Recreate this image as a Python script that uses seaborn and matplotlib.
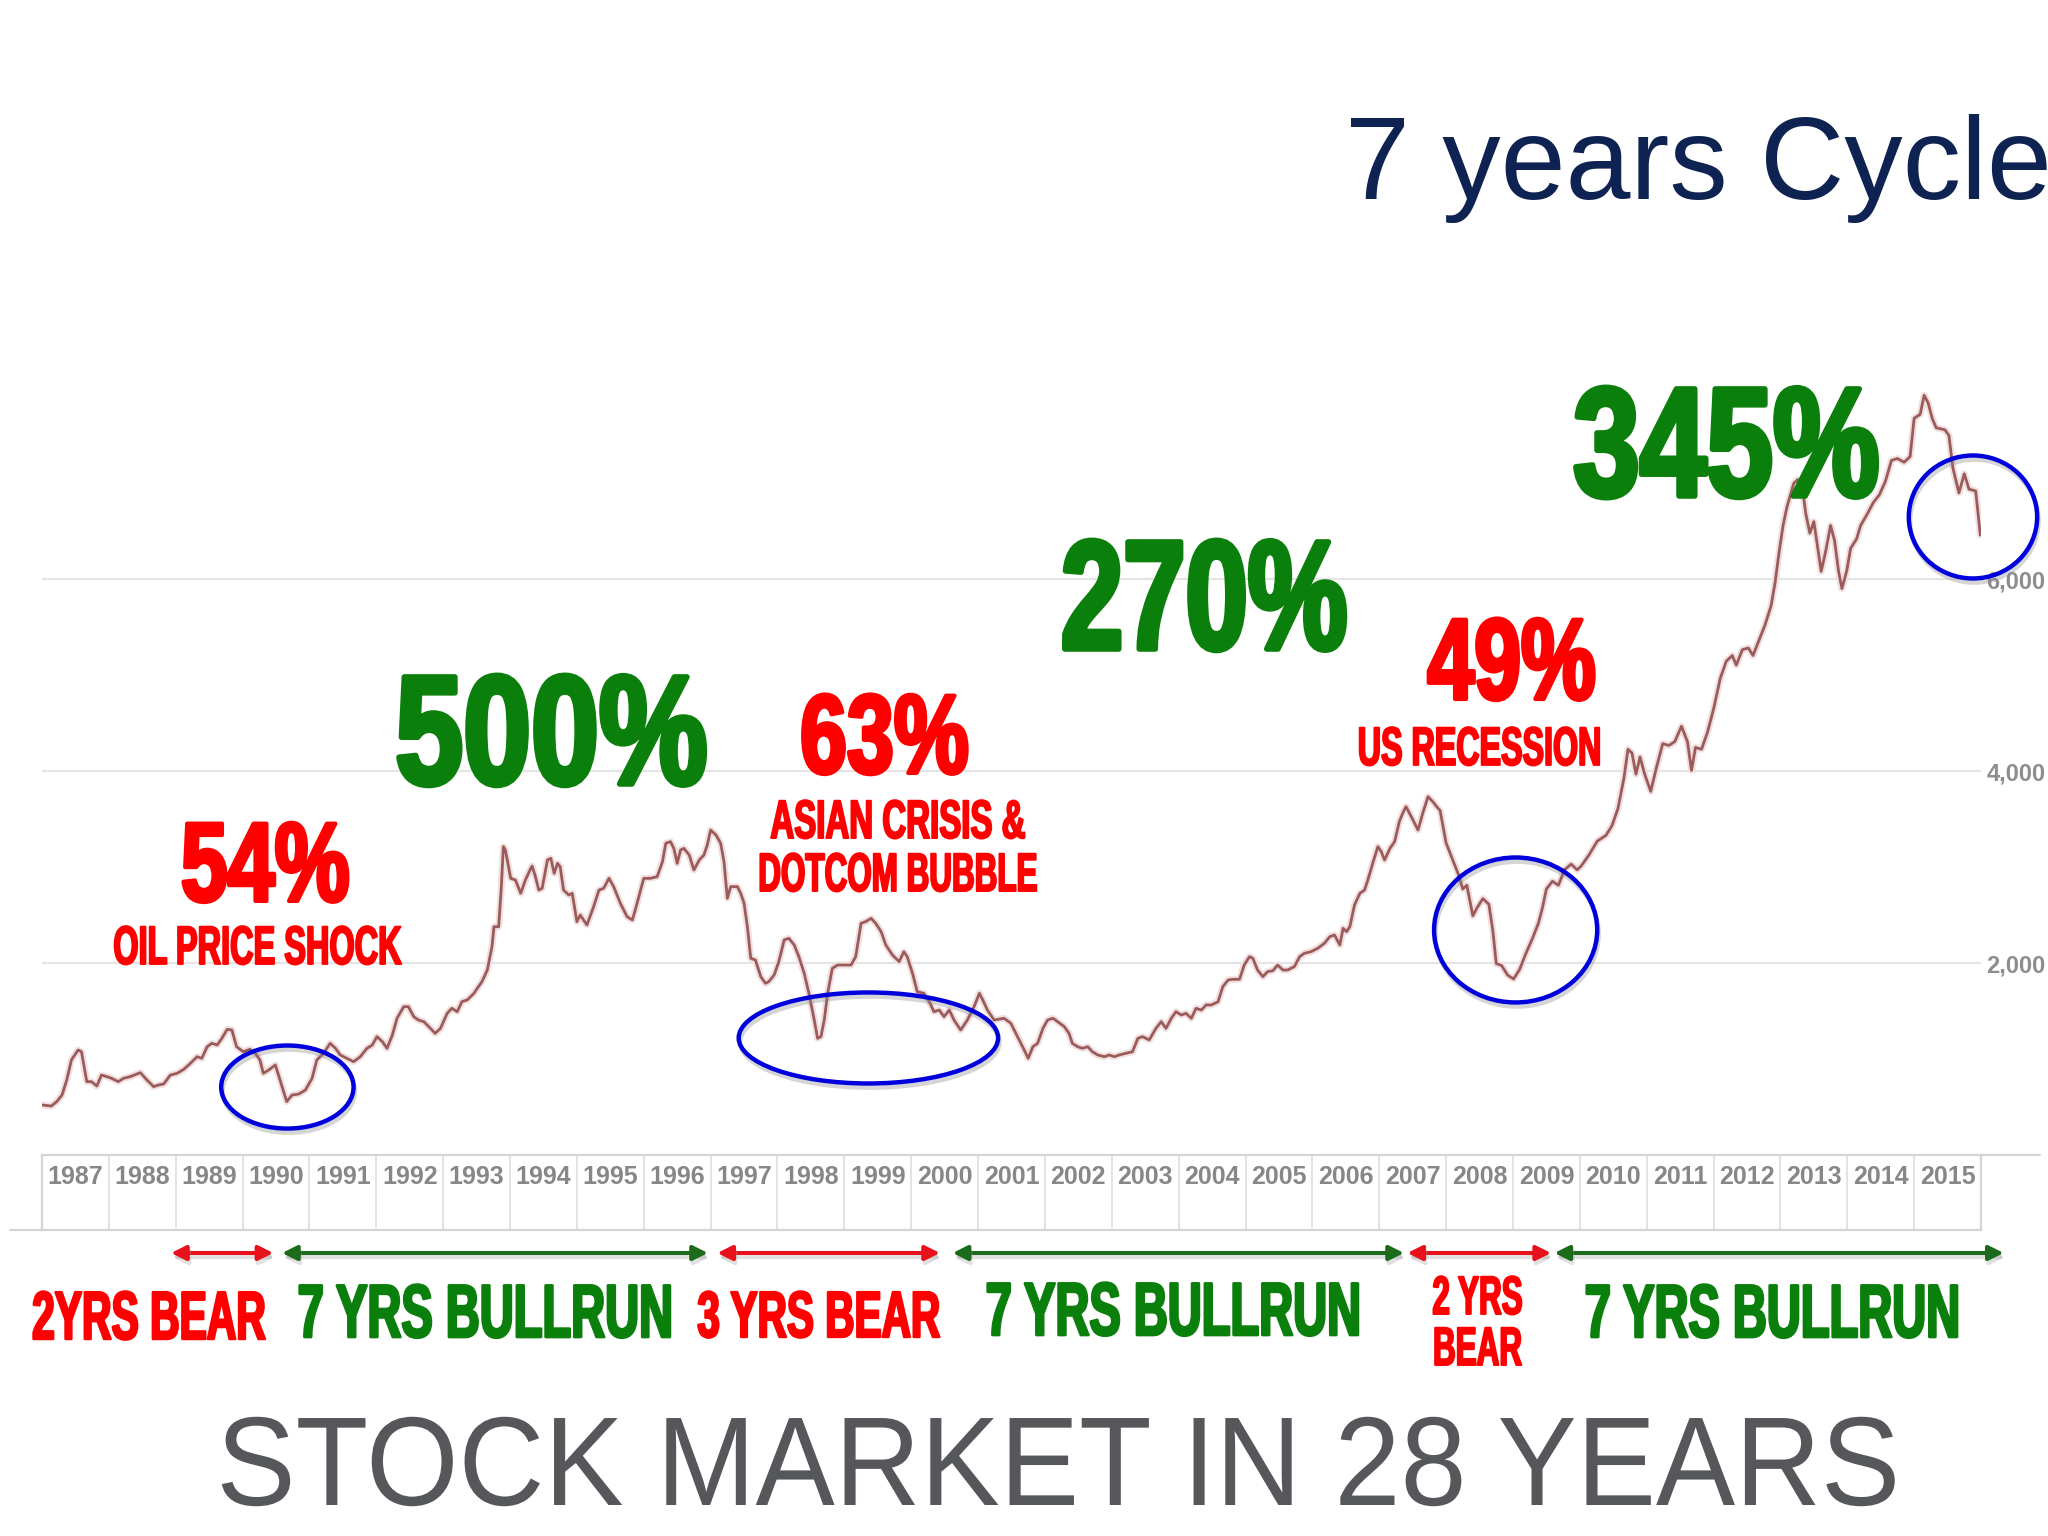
import matplotlib
matplotlib.use("Agg")
import matplotlib.pyplot as plt
import matplotlib.transforms as mtransforms
from matplotlib import patheffects as pe
from matplotlib.patches import Ellipse
from matplotlib.lines import Line2D
import seaborn as sns
import pandas as pd

# index level, as (fractional year, level)
years = [
    1987.00, 1987.14, 1987.22, 1987.30, 1987.37, 1987.44, 1987.54, 1987.59, 1987.64, 1987.67,
    1987.74, 1987.82, 1987.89, 1987.97, 1988.04, 1988.14, 1988.22, 1988.32, 1988.47, 1988.57,
    1988.67, 1988.74, 1988.82, 1988.92, 1989.02, 1989.12, 1989.22, 1989.32, 1989.39, 1989.47,
    1989.54, 1989.62, 1989.69, 1989.77, 1989.84, 1989.91, 1990.01, 1990.11, 1990.19, 1990.26,
    1990.31, 1990.39, 1990.49, 1990.59, 1990.66, 1990.74, 1990.84, 1990.94, 1991.04, 1991.11,
    1991.21, 1991.31, 1991.39, 1991.46, 1991.56, 1991.66, 1991.76, 1991.86, 1991.94, 1992.01,
    1992.09, 1992.16, 1992.24, 1992.31, 1992.41, 1992.48, 1992.56, 1992.63, 1992.71, 1992.81,
    1992.88, 1992.96, 1993.06, 1993.13, 1993.21, 1993.28, 1993.36, 1993.46, 1993.51, 1993.58,
    1993.66, 1993.73, 1993.76, 1993.83, 1993.87, 1993.90, 1993.93, 1994.01, 1994.08, 1994.16,
    1994.23, 1994.31, 1994.33, 1994.38, 1994.43, 1994.48, 1994.56, 1994.61, 1994.66, 1994.71,
    1994.75, 1994.80, 1994.88, 1994.93, 1995.00, 1995.05, 1995.15, 1995.25, 1995.33, 1995.40,
    1995.48, 1995.55, 1995.65, 1995.75, 1995.83, 1995.90, 1996.00, 1996.10, 1996.20, 1996.28,
    1996.33, 1996.40, 1996.45, 1996.50, 1996.55, 1996.60, 1996.68, 1996.75, 1996.83, 1996.90,
    1996.95, 1997.00, 1997.08, 1997.15, 1997.20, 1997.25, 1997.30, 1997.40, 1997.45, 1997.50,
    1997.55, 1997.60, 1997.67, 1997.75, 1997.82, 1997.87, 1997.95, 1998.02, 1998.10, 1998.17,
    1998.25, 1998.32, 1998.40, 1998.47, 1998.55, 1998.60, 1998.65, 1998.70, 1998.75, 1998.82,
    1998.90, 1999.00, 1999.10, 1999.17, 1999.25, 1999.32, 1999.40, 1999.47, 1999.55, 1999.62,
    1999.72, 1999.82, 1999.89, 1999.94, 2000.02, 2000.09, 2000.19, 2000.27, 2000.34, 2000.42,
    2000.49, 2000.57, 2000.64, 2000.74, 2000.84, 2000.94, 2001.02, 2001.07, 2001.14, 2001.24,
    2001.39, 2001.49, 2001.59, 2001.69, 2001.75, 2001.82, 2001.89, 2001.97, 2002.04, 2002.12,
    2002.19, 2002.29, 2002.36, 2002.41, 2002.49, 2002.56, 2002.64, 2002.71, 2002.79, 2002.89,
    2002.96, 2003.04, 2003.11, 2003.21, 2003.31, 2003.39, 2003.46, 2003.56, 2003.66, 2003.74,
    2003.81, 2003.89, 2003.96, 2004.04, 2004.11, 2004.19, 2004.26, 2004.34, 2004.41, 2004.49,
    2004.59, 2004.66, 2004.74, 2004.81, 2004.91, 2004.98, 2005.06, 2005.11, 2005.18, 2005.26,
    2005.33, 2005.41, 2005.48, 2005.56, 2005.63, 2005.73, 2005.81, 2005.88, 2005.98, 2006.08,
    2006.18, 2006.26, 2006.33, 2006.41, 2006.46, 2006.51, 2006.56, 2006.63, 2006.71, 2006.78,
    2006.83, 2006.91, 2006.98, 2007.03, 2007.08, 2007.16, 2007.23, 2007.30, 2007.35, 2007.40,
    2007.48, 2007.58, 2007.65, 2007.73, 2007.80, 2007.88, 2007.91, 2008.00, 2008.09, 2008.18,
    2008.25, 2008.31, 2008.40, 2008.46, 2008.55, 2008.64, 2008.70, 2008.75, 2008.83, 2008.92,
    2009.01, 2009.10, 2009.19, 2009.29, 2009.38, 2009.44, 2009.50, 2009.59, 2009.68, 2009.77,
    2009.87, 2009.96, 2010.02, 2010.14, 2010.26, 2010.39, 2010.48, 2010.57, 2010.66, 2010.72,
    2010.78, 2010.84, 2010.90, 2010.97, 2011.06, 2011.15, 2011.24, 2011.33, 2011.42, 2011.52,
    2011.61, 2011.67, 2011.73, 2011.82, 2011.91, 2012.00, 2012.10, 2012.19, 2012.28, 2012.34,
    2012.43, 2012.52, 2012.59, 2012.68, 2012.77, 2012.86, 2012.92, 2012.98, 2013.04, 2013.10,
    2013.20, 2013.26, 2013.32, 2013.38, 2013.44, 2013.50, 2013.56, 2013.61, 2013.68, 2013.75,
    2013.81, 2013.87, 2013.92, 2013.99, 2014.05, 2014.14, 2014.20, 2014.30, 2014.39, 2014.48,
    2014.57, 2014.66, 2014.75, 2014.85, 2014.94, 2015.00, 2015.09, 2015.15, 2015.21, 2015.27,
    2015.33, 2015.46, 2015.52, 2015.58, 2015.67, 2015.75, 2015.82, 2015.92, 2015.99,
]
index_level = [
    521, 510, 556, 625, 781, 990, 1094, 1076, 885, 764,
    764, 719, 833, 816, 799, 764, 799, 816, 858, 781,
    712, 729, 740, 833, 851, 892, 955, 1024, 1007, 1128,
    1163, 1146, 1215, 1309, 1302, 1128, 1076, 1101, 1059, 990,
    851, 885, 938, 712, 556, 625, 635, 677, 799, 990,
    1059, 1163, 1111, 1042, 1007, 972, 1024, 1111, 1146, 1233,
    1181, 1111, 1250, 1424, 1545, 1545, 1441, 1406, 1389, 1319,
    1267, 1319, 1476, 1528, 1493, 1597, 1615, 1684, 1736, 1806,
    1927, 2170, 2378, 2378, 2795, 3212, 3177, 2882, 2865, 2726,
    2865, 2986, 3010, 2899, 2760, 2778, 3073, 3090, 2934, 3038,
    3003, 2760, 2708, 2726, 2431, 2500, 2396, 2587, 2760, 2778,
    2882, 2795, 2622, 2483, 2448, 2622, 2882, 2882, 2899, 3056,
    3247, 3264, 3194, 3038, 3177, 3194, 3125, 2969, 3073, 3125,
    3229, 3385, 3333, 3247, 3056, 2674, 2795, 2795, 2726, 2622,
    2378, 2049, 2031, 1858, 1788, 1806, 1875, 2014, 2240, 2257,
    2188, 2066, 1892, 1684, 1406, 1215, 1233, 1406, 1684, 1944,
    1979, 1979, 1979, 2066, 2413, 2431, 2465, 2413, 2326, 2188,
    2083, 2014, 2118, 2066, 1892, 1701, 1684, 1597, 1493, 1510,
    1441, 1510, 1406, 1302, 1406, 1545, 1684, 1615, 1510, 1406,
    1424, 1372, 1233, 1094, 1007, 1128, 1163, 1319, 1406, 1424,
    1389, 1337, 1267, 1163, 1128, 1111, 1128, 1076, 1042, 1024,
    1042, 1024, 1042, 1059, 1076, 1215, 1233, 1198, 1319, 1389,
    1319, 1424, 1493, 1458, 1476, 1424, 1528, 1510, 1563, 1563,
    1597, 1753, 1823, 1830, 1830, 1979, 2066, 2049, 1927, 1858,
    1910, 1920, 1979, 1927, 1927, 1962, 2066, 2101, 2118, 2153,
    2205, 2274, 2292, 2188, 2361, 2326, 2378, 2604, 2726, 2760,
    2865, 3056, 3212, 3160, 3073, 3194, 3264, 3472, 3559, 3628,
    3524, 3385, 3559, 3733, 3681, 3611, 3589, 3250, 3090, 2930,
    2771, 2810, 2492, 2572, 2671, 2611, 2332, 1994, 1974, 1874,
    1834, 1933, 2094, 2253, 2413, 2572, 2771, 2851, 2810, 2970,
    3030, 2970, 3010, 3129, 3269, 3329, 3429, 3608, 3927, 4226,
    4186, 3967, 4146, 3967, 3788, 4047, 4285, 4266, 4305, 4466,
    4305, 4006, 4246, 4226, 4405, 4645, 4964, 5143, 5203, 5103,
    5263, 5282, 5203, 5363, 5522, 5721, 5960, 6279, 6558, 6757,
    6997, 7036, 6997, 6678, 6478, 6598, 6319, 6079, 6299, 6558,
    6399, 6079, 5900, 6079, 6319, 6419, 6558, 6678, 6797, 6877,
    7017, 7235, 7255, 7216, 7276, 7674, 7715, 7914, 7833, 7674,
    7575, 7554, 7495, 7156, 6897, 7096, 6936, 6917, 6458,
]

strip_years = list(range(1987, 2016))
grid_levels = [2000, 4000, 6000]

swing_labels = ["54%", "500%", "63%", "270%", "49%", "345%"]
swing_kinds = ["bear", "bull", "bear", "bull", "bear", "bull"]
cause_labels = ["OIL PRICE SHOCK", "ASIAN CRISIS &", "DOTCOM BUBBLE", "US RECESSION"]

period_labels = ["2YRS BEAR", "7 YRS BULLRUN", "3 YRS BEAR", "7 YRS BULLRUN", "2 YRS\nBEAR", "7 YRS BULLRUN"]
period_kinds = ["bear", "bull", "bear", "bull", "bear", "bull"]
period_starts = [1988.93, 1990.59, 1997.10, 2000.62, 2007.42, 2009.62]
period_ends = [1990.46, 1996.96, 2000.43, 2007.37, 2009.57, 2016.34]

RED = "#ff0000"
GREEN = "#0b7f0b"
text_colors = {"bear": RED, "bull": GREEN}
arrow_colors = {"bear": "#e8101a", "bull": "#1b6b1b"}


class Tall(pe.AbstractPathEffect):
    """Stretch glyphs upward from the baseline, optionally fattening the strokes."""

    def __init__(self, sy, lw=0.0):
        super().__init__()
        self.sy = sy
        self.lw = lw

    def draw_path(self, renderer, gc, tpath, affine, rgbFace=None):
        tr = mtransforms.Affine2D().scale(1, self.sy) + affine
        gc0 = renderer.new_gc()
        gc0.copy_properties(gc)
        if self.lw and rgbFace is not None:
            gc0.set_linewidth(self.lw)
            gc0.set_foreground(rgbFace)
            gc0.set_joinstyle("round")
        renderer.draw_path(gc0, tpath, tr, rgbFace)
        gc0.restore()


def poster_text(parent, x, y, s, size, sx, color, transform, stroke=None, weight="bold", **kw):
    # condensed poster lettering: a smaller font stretched to `size` cap height
    lw = size * 0.036 if stroke is None else stroke
    return parent.text(x, y, s, fontsize=size * sx, color=color, fontweight=weight,
                       ha="center", va="baseline", transform=transform,
                       path_effects=[Tall(1 / sx, lw)], **kw)


sns.set_style("white")
plt.rcParams["font.family"] = ["Liberation Sans", "DejaVu Sans"]

W, H = 2048, 1536
fig = plt.figure(figsize=(W / 100, H / 100), dpi=100, facecolor="white")

left, right = 42 / W, 1981 / W
ax = fig.add_axes([left, 1 - 1155 / H, right - left, (1155 - 377.4) / H])
df = pd.DataFrame({"year": years, "level": index_level})
sns.lineplot(data=df, x="year", y="level", ax=ax, color="#9c5b5b", linewidth=2.0,
             estimator=None, sort=False, zorder=3)
ax.lines[0].set_path_effects([pe.Stroke(linewidth=5, foreground="#f1e0e0"), pe.Normal()])

ax.set_xlim(1987, 2016)
ax.set_ylim(0, 8100)
ax.set_xticks([])
ax.set_yticks(grid_levels)
ax.set_yticklabels([f"{v:,}" for v in grid_levels])
ax.yaxis.tick_right()
ax.tick_params(axis="y", length=0, pad=4, labelsize=17, labelcolor="#8d8d8d")
for lab in ax.get_yticklabels():
    lab.set_fontweight("bold")
ax.grid(axis="y", color="#e4e4e4", linewidth=1.5)
ax.set_xlabel("")
ax.set_ylabel("")
for sp in ax.spines.values():
    sp.set_visible(False)

# blue rings around the troughs
rings = [(1990.67, 708, 1.98, 865), (1999.36, 1219, 3.88, 948),
         (2009.04, 2344, 2.44, 1510), (2015.88, 6646, 1.92, 1281)]
for cx, cy, w, h in rings:
    ax.add_patch(Ellipse((cx, cy), w, h, fill=False, edgecolor="#0000dd", linewidth=3.2,
                         clip_on=False, zorder=5,
                         path_effects=[pe.SimpleLineShadow(offset=(1, -3), shadow_color="#888888", alpha=0.35),
                                       pe.Normal()]))

# swing percentages and their causes
swing_pos = [(1990.34, 2646, 81, 0.75), (1994.62, 3865, 112, 0.785), (1999.60, 3979, 81, 0.75),
             (2004.38, 5271, 112, 0.72), (2008.98, 4750, 83, 0.73), (2012.19, 6865, 112, 0.77)]
for lab, kind, (x, y, size, sx) in zip(swing_labels, swing_kinds, swing_pos):
    poster_text(ax, x, y, lab, size, sx, text_colors[kind], ax.transData, zorder=6)

cause_pos = [(1990.22, 1990, 0.60), (1999.80, 3302, 0.61), (1999.80, 2750, 0.58), (2008.50, 4063, 0.595)]
for lab, (x, y, sx) in zip(cause_labels, cause_pos):
    poster_text(ax, x, y, lab, 39, sx, RED, ax.transData, zorder=6)

# year strip under the chart
strip = fig.add_axes([left, 1 - 1230 / H, right - left, 75 / H])
strip.set_xlim(1987, 2016)
strip.set_ylim(0, 1)
strip.set_xticks([])
strip.set_yticks([])
for sp in strip.spines.values():
    sp.set_color("#d4d4d4")
    sp.set_linewidth(1.6)
for yr in strip_years[1:]:
    strip.axvline(yr, color="#dedede", linewidth=1.2)
for yr in strip_years:
    strip.text(yr + 0.5, 0.70, str(yr), ha="center", va="center", fontsize=18,
               fontweight="bold", color="#878787")
fig.add_artist(Line2D([1981 / W, 2040 / W], [1 - 1155 / H] * 2, color="#d4d4d4", linewidth=1.6))
fig.add_artist(Line2D([10 / W, 42 / W], [1 - 1230 / H] * 2, color="#d4d4d4", linewidth=1.6))

# period arrows and labels
band = mtransforms.blended_transform_factory(ax.transData, fig.transFigure)
arrow_y = 1 - 1253 / H
for a, b, kind in zip(period_starts, period_ends, period_kinds):
    ax.annotate("", xy=(b, arrow_y), xytext=(a, arrow_y), xycoords=band, textcoords=band,
                annotation_clip=False,
                arrowprops=dict(arrowstyle="<|-|>", color=arrow_colors[kind], lw=2.9,
                                mutation_scale=22, shrinkA=0, shrinkB=0,
                                path_effects=[pe.SimpleLineShadow(offset=(1, -3), shadow_color="#999999", alpha=0.3),
                                              pe.Normal()]))

period_pos = [(1988.60, 1339, 49, 0.60), (1993.63, 1337, 54, 0.627), (1998.62, 1337, 47, 0.622),
              (2003.92, 1335, 54, 0.627), (2008.47, 1365, 39, 0.58), (2012.88, 1337, 54, 0.627)]
for lab, kind, (x, base_px, size, sx) in zip(period_labels, period_kinds, period_pos):
    for j, line in enumerate(reversed(lab.split("\n"))):
        poster_text(fig, x, 1 - (base_px - j * 51) / H, line, size, sx, text_colors[kind], band)

# titles
fig.text(1345 / W, 1 - 199 / H, "7 years Cycle", fontsize=84, color="#0f2352",
         ha="left", va="baseline")
poster_text(fig, 1058 / W, 1 - 1505 / H, "STOCK MARKET IN 28 YEARS", 91, 0.94, "#55575b",
            fig.transFigure, stroke=0, weight="normal")

fig.savefig("out.png", dpi=100, facecolor="white")
